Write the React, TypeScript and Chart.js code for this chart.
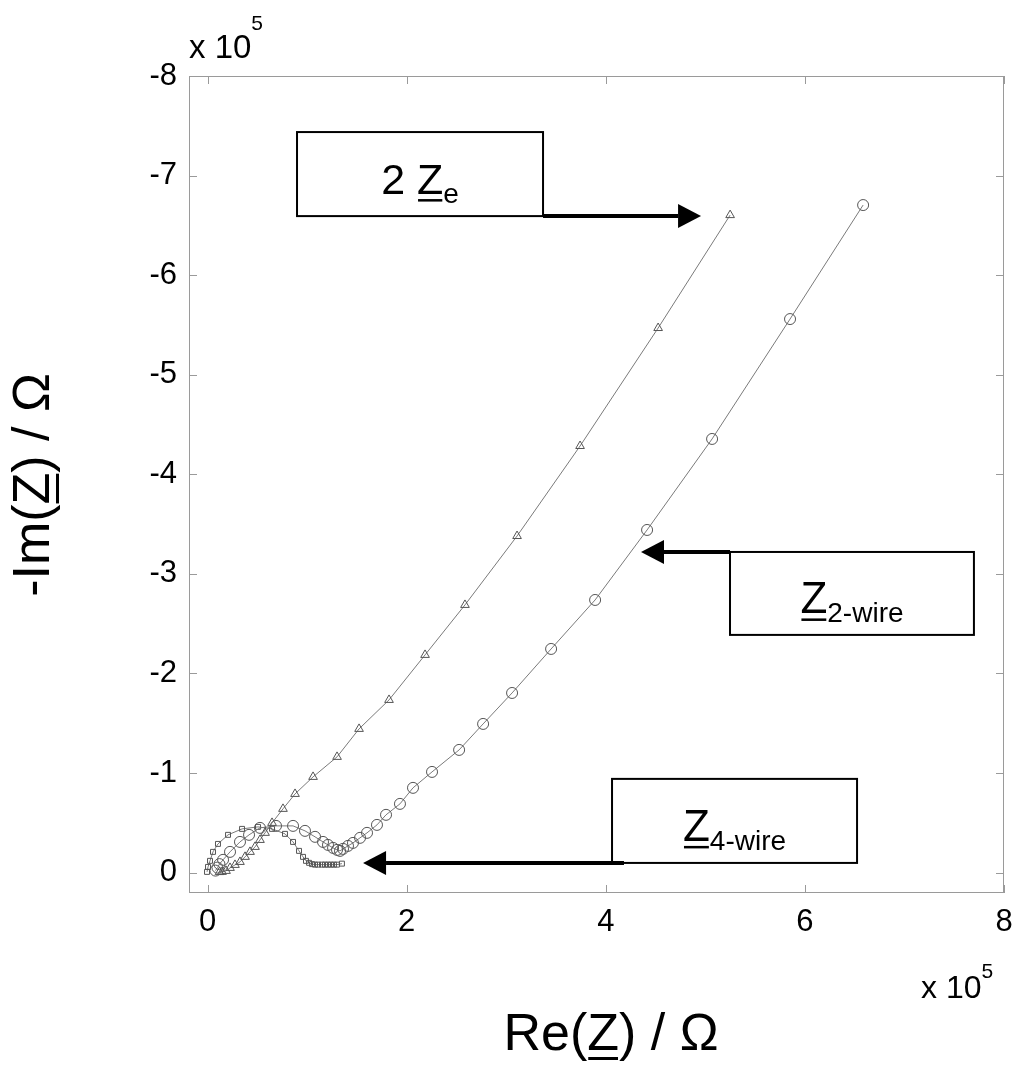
import React, { useEffect, useRef } from "react";
import { Chart, registerables } from "chart.js";

Chart.register(...registerables);

// Axis ticks (units of 10^5 Ohm)
const X_TICKS = [0, 2, 4, 6, 8];
const Y_TICKS = [-8, -7, -6, -5, -4, -3, -2, -1, 0];

// 2 Z_e (triangles) — Re and Im in 10^5 Ohm
const ZE2_RE = [0.12, 0.146, 0.186, 0.226, 0.276, 0.326, 0.377, 0.427, 0.477, 0.527, 0.578, 0.648, 0.758, 0.879, 1.06, 1.301, 1.522, 1.823, 2.185, 2.586, 3.109, 3.742, 4.526, 5.249];
const ZE2_IM = [-0.005, -0.007, -0.017, -0.047, -0.077, -0.107, -0.158, -0.208, -0.258, -0.328, -0.399, -0.499, -0.64, -0.79, -0.961, -1.162, -1.443, -1.734, -2.186, -2.688, -3.38, -4.284, -5.469, -6.603];

// Z 2-wire (circles)
const Z2W_RE = [0.08, 0.1, 0.12, 0.156, 0.226, 0.326, 0.417, 0.527, 0.688, 0.859, 0.979, 1.08, 1.16, 1.21, 1.261, 1.301, 1.331, 1.361, 1.411, 1.461, 1.532, 1.602, 1.702, 1.793, 1.933, 2.064, 2.255, 2.527, 2.768, 3.059, 3.451, 3.893, 4.415, 5.068, 5.851, 6.585];
const Z2W_IM = [-0.02, -0.05, -0.085, -0.128, -0.208, -0.308, -0.379, -0.449, -0.469, -0.469, -0.419, -0.359, -0.308, -0.278, -0.248, -0.228, -0.218, -0.238, -0.268, -0.298, -0.349, -0.399, -0.479, -0.58, -0.69, -0.851, -1.011, -1.232, -1.493, -1.804, -2.246, -2.738, -3.441, -4.355, -5.559, -6.704];

// Z 4-wire (squares)
const Z4W_RE = [-0.005, 0.005, 0.025, 0.055, 0.105, 0.206, 0.347, 0.507, 0.648, 0.778, 0.859, 0.919, 0.959, 0.989, 1.02, 1.05, 1.08, 1.11, 1.15, 1.18, 1.21, 1.24, 1.27, 1.3, 1.35];
const Z4W_IM = [-0.007, -0.057, -0.118, -0.208, -0.288, -0.379, -0.439, -0.459, -0.439, -0.389, -0.308, -0.218, -0.158, -0.118, -0.098, -0.085, -0.08, -0.08, -0.08, -0.08, -0.08, -0.08, -0.08, -0.08, -0.09];

const FONT = '"Liberation Sans", Arial, Helvetica, sans-serif';

type Part = { t: string; size: number; dy?: number; u?: boolean };

function drawRich(
  ctx: CanvasRenderingContext2D,
  x: number,
  y: number,
  parts: Part[],
  align: "left" | "center",
  uOff: number,
  uThk: number
) {
  let w = 0;
  const widths: number[] = [];
  for (const p of parts) {
    ctx.font = `${p.size}px ${FONT}`;
    const m = ctx.measureText(p.t).width;
    widths.push(m);
    w += m;
  }
  let cx = align === "center" ? x - w / 2 : x;
  ctx.textAlign = "left";
  ctx.textBaseline = "alphabetic";
  parts.forEach((p, i) => {
    ctx.font = `${p.size}px ${FONT}`;
    ctx.fillText(p.t, cx, y + (p.dy || 0));
    if (p.u) ctx.fillRect(cx + 1, y + uOff, widths[i] - 2, uThk);
    cx += widths[i];
  });
}

// Annotation boxes in data coordinates: [xLeft, xRight, yTop, yBottom]
const ANNOTS = [
  {
    box: [0.899, 3.37, -7.437, -6.593],
    from: [3.37, -6.593],
    to: [4.957, -6.593],
    parts: [
      { t: "2 ", size: 43 },
      { t: "Z", size: 43, u: true },
      { t: "e", size: 28, dy: 9 },
    ],
  },
  {
    box: [5.248, 7.698, -3.22, -2.387],
    from: [5.248, -3.22],
    to: [4.354, -3.22],
    parts: [
      { t: "Z", size: 44, u: true },
      { t: "2-wire", size: 28, dy: 9 },
    ],
  },
  {
    box: [4.063, 6.524, -0.941, -0.097],
    from: [4.183, -0.097],
    to: [1.562, -0.097],
    parts: [
      { t: "Z", size: 44, u: true },
      { t: "4-wire", size: 28, dy: 9 },
    ],
  },
];

const decorPlugin = {
  id: "decor",
  afterDraw(chart: any) {
    const ctx: CanvasRenderingContext2D = chart.ctx;
    const xs = chart.scales.x;
    const ys = chart.scales.y;
    const a = chart.chartArea;
    ctx.save();
    // frame
    ctx.strokeStyle = "#9a9a9a";
    ctx.lineWidth = 1;
    ctx.strokeRect(a.left + 0.5, a.top + 0.5, a.right - a.left - 1, a.bottom - a.top - 1);
    // inward tick marks on all four sides
    const tl = 8;
    ctx.beginPath();
    for (const v of X_TICKS) {
      const px = Math.round(xs.getPixelForValue(v)) + 0.5;
      ctx.moveTo(px, a.bottom);
      ctx.lineTo(px, a.bottom - tl);
      ctx.moveTo(px, a.top);
      ctx.lineTo(px, a.top + tl);
    }
    for (const v of Y_TICKS) {
      const py = Math.round(ys.getPixelForValue(v)) + 0.5;
      ctx.moveTo(a.left, py);
      ctx.lineTo(a.left + tl, py);
      ctx.moveTo(a.right, py);
      ctx.lineTo(a.right - tl, py);
    }
    ctx.stroke();

    ctx.fillStyle = "#000";
    // axis titles
    drawRich(
      ctx,
      611,
      1050,
      [
        { t: "Re(", size: 52 },
        { t: "Z", size: 52, u: true },
        { t: ") / Ω", size: 52 },
      ],
      "center",
      7,
      3
    );
    ctx.save();
    ctx.translate(49, 485);
    ctx.rotate(-Math.PI / 2);
    drawRich(
      ctx,
      0,
      0,
      [
        { t: "-Im(", size: 52 },
        { t: "Z", size: 52, u: true },
        { t: ") / Ω", size: 52 },
      ],
      "center",
      7,
      3
    );
    ctx.restore();

    // exponent labels
    drawRich(ctx, 189, 58, [{ t: "x 10", size: 33 }, { t: "5", size: 21, dy: -28 }], "left", 0, 0);
    drawRich(ctx, 921, 998, [{ t: "x 10", size: 32 }, { t: "5", size: 21, dy: -20 }], "left", 0, 0);

    // annotations
    for (const an of ANNOTS) {
      const x1 = xs.getPixelForValue(an.box[0]);
      const x2 = xs.getPixelForValue(an.box[1]);
      const y1 = ys.getPixelForValue(an.box[2]);
      const y2 = ys.getPixelForValue(an.box[3]);
      ctx.strokeStyle = "#000";
      ctx.lineWidth = 2;
      ctx.strokeRect(x1, y1, x2 - x1, y2 - y1);
      drawRich(ctx, (x1 + x2) / 2, (y1 + y2) / 2 + 20, an.parts as Part[], "center", 5, 2.5);
      // arrow
      const fx = xs.getPixelForValue(an.from[0]);
      const fy = ys.getPixelForValue(an.from[1]);
      const tx = xs.getPixelForValue(an.to[0]);
      const ty = ys.getPixelForValue(an.to[1]);
      const dir = tx > fx ? 1 : -1;
      const hl = 23;
      const hw = 12;
      ctx.lineWidth = 4;
      ctx.beginPath();
      ctx.moveTo(fx, fy);
      ctx.lineTo(tx - dir * hl, ty);
      ctx.stroke();
      ctx.beginPath();
      ctx.moveTo(tx, ty);
      ctx.lineTo(tx - dir * hl, ty - hw);
      ctx.lineTo(tx - dir * hl, ty + hw);
      ctx.closePath();
      ctx.fill();
    }
    ctx.restore();
  },
};

function toPoints(xs: number[], ys: number[]) {
  return xs.map((x, i) => ({ x, y: ys[i] }));
}

export default function App() {
  const ref = useRef<HTMLCanvasElement | null>(null);
  useEffect(() => {
    if (!ref.current) return;
    const common = {
      showLine: true,
      borderColor: "#7a7a7a",
      borderWidth: 1,
      pointBackgroundColor: "rgba(0,0,0,0)",
      pointBorderColor: "#555555",
      pointBorderWidth: 1,
      tension: 0,
    };
    const chart = new Chart(ref.current, {
      type: "scatter",
      data: {
        datasets: [
          { ...common, label: "2 Ze", data: toPoints(ZE2_RE, ZE2_IM), pointStyle: "triangle", pointRadius: 5 },
          { ...common, label: "Z 2-wire", data: toPoints(Z2W_RE, Z2W_IM), pointStyle: "circle", pointRadius: 5.5 },
          { ...common, label: "Z 4-wire", data: toPoints(Z4W_RE, Z4W_IM), pointStyle: "rect", pointRadius: 3.5 },
        ],
      },
      options: {
        animation: false,
        responsive: false,
        events: [],
        layout: { padding: { top: 76, right: 20, left: 0, bottom: 0 } },
        plugins: { legend: { display: false }, tooltip: { enabled: false } },
        scales: {
          x: {
            type: "linear",
            min: -0.186,
            max: 8,
            grid: { display: false, drawTicks: false },
            border: { display: false },
            afterBuildTicks: (s: any) => {
              s.ticks = X_TICKS.map((v) => ({ value: v }));
            },
            afterFit: (s: any) => {
              s.height = 178;
            },
            ticks: {
              padding: 11,
              color: "#000",
              font: { family: FONT, size: 31 },
              maxRotation: 0,
              callback: (v: any) => String(v),
            },
          },
          y: {
            type: "linear",
            reverse: true,
            min: -8,
            max: 0.205,
            grid: { display: false, drawTicks: false },
            border: { display: false },
            afterBuildTicks: (s: any) => {
              s.ticks = Y_TICKS.map((v) => ({ value: v }));
            },
            afterFit: (s: any) => {
              s.width = 189;
            },
            ticks: {
              padding: 12,
              color: "#000",
              font: { family: FONT, size: 31 },
              callback: (v: any) => String(v),
            },
          },
        },
      },
      plugins: [decorPlugin],
    } as any);
    return () => chart.destroy();
  }, []);
  return (
    <div style={{ position: "absolute", left: 0, top: 0, width: 1024, height: 1071, background: "#fff" }}>
      <canvas ref={ref} width={1024} height={1071} style={{ width: 1024, height: 1071, display: "block" }} />
    </div>
  );
}
